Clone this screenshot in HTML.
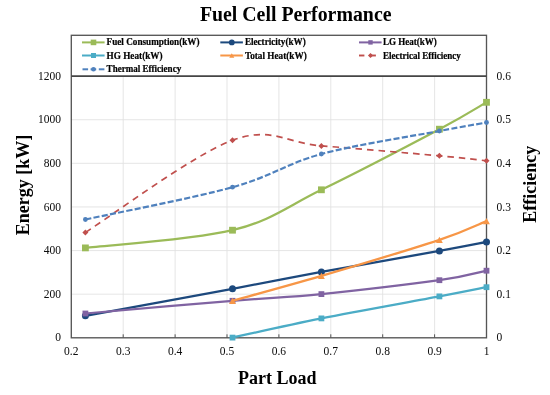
<!DOCTYPE html>
<html><head><meta charset="utf-8"><title>Fuel Cell Performance</title>
<style>html,body{margin:0;padding:0;background:#fff}svg{display:block}</style></head>
<body>
<svg width="550" height="395" viewBox="0 0 550 395">
<defs><filter id="soft" x="0" y="0" width="550" height="395" filterUnits="userSpaceOnUse"><feGaussianBlur stdDeviation="0.4"/></filter></defs>
<rect width="550" height="395" fill="#fff"/>
<g filter="url(#soft)">
<g stroke="#e0e0e0" stroke-width="0.85" fill="none">
<line x1="123.20" y1="76.10" x2="123.20" y2="337.80"/>
<line x1="175.10" y1="76.10" x2="175.10" y2="337.80"/>
<line x1="227.00" y1="76.10" x2="227.00" y2="337.80"/>
<line x1="278.90" y1="76.10" x2="278.90" y2="337.80"/>
<line x1="330.80" y1="76.10" x2="330.80" y2="337.80"/>
<line x1="382.70" y1="76.10" x2="382.70" y2="337.80"/>
<line x1="434.60" y1="76.10" x2="434.60" y2="337.80"/>
<line x1="71.30" y1="294.18" x2="486.50" y2="294.18"/>
<line x1="71.30" y1="250.57" x2="486.50" y2="250.57"/>
<line x1="71.30" y1="206.95" x2="486.50" y2="206.95"/>
<line x1="71.30" y1="163.33" x2="486.50" y2="163.33"/>
<line x1="71.30" y1="119.72" x2="486.50" y2="119.72"/>
</g>
<g stroke="#555555" stroke-width="1.35" fill="none">
<rect x="71.30" y="35.30" width="415.20" height="302.50"/>
<line x1="71.30" y1="76.10" x2="486.50" y2="76.10" stroke="#444" stroke-width="1.6"/>
</g>
<g stroke="#555555" stroke-width="1" fill="none">
<line x1="123.20" y1="334.30" x2="123.20" y2="337.80"/>
<line x1="175.10" y1="334.30" x2="175.10" y2="337.80"/>
<line x1="227.00" y1="334.30" x2="227.00" y2="337.80"/>
<line x1="278.90" y1="334.30" x2="278.90" y2="337.80"/>
<line x1="330.80" y1="334.30" x2="330.80" y2="337.80"/>
<line x1="382.70" y1="334.30" x2="382.70" y2="337.80"/>
<line x1="434.60" y1="334.30" x2="434.60" y2="337.80"/>
</g>
<path d="M85.40 247.90 C109.92 244.95 193.17 239.88 232.50 230.20 C271.83 220.52 286.92 206.63 321.40 189.80 C355.88 172.97 411.88 143.78 439.40 129.20 C466.92 114.62 478.65 106.78 486.50 102.30" fill="none" stroke="#9BBB59" stroke-width="2.3" stroke-linejoin="round"/>
<rect x="82.00" y="244.50" width="6.80" height="6.80" fill="#9BBB59"/>
<rect x="229.10" y="226.80" width="6.80" height="6.80" fill="#9BBB59"/>
<rect x="318.00" y="186.40" width="6.80" height="6.80" fill="#9BBB59"/>
<rect x="436.00" y="125.80" width="6.80" height="6.80" fill="#9BBB59"/>
<rect x="483.10" y="98.90" width="6.80" height="6.80" fill="#9BBB59"/>
<path d="M85.40 315.80 C109.92 311.30 193.17 296.12 232.50 288.80 C271.83 281.48 286.92 278.22 321.40 271.90 C355.88 265.58 411.88 255.88 439.40 250.90 C466.92 245.92 478.65 243.48 486.50 242.00" fill="none" stroke="#1F497D" stroke-width="2.3" stroke-linejoin="round"/>
<circle cx="85.40" cy="315.80" r="3.50" fill="#1F497D"/>
<circle cx="232.50" cy="288.80" r="3.50" fill="#1F497D"/>
<circle cx="321.40" cy="271.90" r="3.50" fill="#1F497D"/>
<circle cx="439.40" cy="250.90" r="3.50" fill="#1F497D"/>
<circle cx="486.50" cy="242.00" r="3.50" fill="#1F497D"/>
<path d="M85.40 313.50 C109.92 311.38 193.17 304.03 232.50 300.80 C271.83 297.57 286.92 297.53 321.40 294.10 C355.88 290.67 411.88 284.10 439.40 280.20 C466.92 276.30 478.65 272.28 486.50 270.70" fill="none" stroke="#8064A2" stroke-width="2.25" stroke-linejoin="round"/>
<rect x="82.50" y="310.60" width="5.80" height="5.80" fill="#8064A2"/>
<rect x="229.60" y="297.90" width="5.80" height="5.80" fill="#8064A2"/>
<rect x="318.50" y="291.20" width="5.80" height="5.80" fill="#8064A2"/>
<rect x="436.50" y="277.30" width="5.80" height="5.80" fill="#8064A2"/>
<rect x="483.60" y="267.80" width="5.80" height="5.80" fill="#8064A2"/>
<path d="M232.50 337.60 C247.32 334.40 286.92 325.27 321.40 318.40 C355.88 311.53 411.88 301.60 439.40 296.40 C466.92 291.20 478.65 288.73 486.50 287.20" fill="none" stroke="#4BACC6" stroke-width="2.25" stroke-linejoin="round"/>
<rect x="229.60" y="334.70" width="5.80" height="5.80" fill="#4BACC6"/>
<rect x="318.50" y="315.50" width="5.80" height="5.80" fill="#4BACC6"/>
<rect x="436.50" y="293.50" width="5.80" height="5.80" fill="#4BACC6"/>
<rect x="483.60" y="284.30" width="5.80" height="5.80" fill="#4BACC6"/>
<path d="M232.50 300.80 C247.32 296.65 286.92 286.07 321.40 275.90 C355.88 265.73 411.88 248.93 439.40 239.80 C466.92 230.67 478.65 224.22 486.50 221.10" fill="none" stroke="#F79646" stroke-width="2.3" stroke-linejoin="round"/>
<polygon points="232.50,297.70 235.91,303.90 229.09,303.90" fill="#F79646"/>
<polygon points="321.40,272.80 324.81,279.00 317.99,279.00" fill="#F79646"/>
<polygon points="439.40,236.70 442.81,242.90 435.99,242.90" fill="#F79646"/>
<polygon points="486.50,218.00 489.91,224.20 483.09,224.20" fill="#F79646"/>
<path d="M85.40 232.40 C109.92 217.03 193.17 154.62 232.50 140.20 C271.83 125.78 286.92 143.30 321.40 145.90 C355.88 148.50 411.88 153.32 439.40 155.80 C466.92 158.28 478.65 159.97 486.50 160.80" fill="none" stroke="#C0504D" stroke-width="1.7" stroke-linejoin="round" stroke-dasharray="6.5 5"/>
<polygon points="85.40,229.40 88.40,232.40 85.40,235.40 82.40,232.40" fill="#C0504D"/>
<polygon points="232.50,137.20 235.50,140.20 232.50,143.20 229.50,140.20" fill="#C0504D"/>
<polygon points="321.40,142.90 324.40,145.90 321.40,148.90 318.40,145.90" fill="#C0504D"/>
<polygon points="439.40,152.80 442.40,155.80 439.40,158.80 436.40,155.80" fill="#C0504D"/>
<polygon points="486.50,157.80 489.50,160.80 486.50,163.80 483.50,160.80" fill="#C0504D"/>
<path d="M85.40 219.50 C109.92 214.12 193.17 198.12 232.50 187.20 C271.83 176.28 286.92 163.37 321.40 154.00 C355.88 144.63 411.88 136.25 439.40 131.00 C466.92 125.75 478.65 123.92 486.50 122.50" fill="none" stroke="#4F81BD" stroke-width="2.2" stroke-linejoin="round" stroke-dasharray="6.1 2.3"/>
<circle cx="85.40" cy="219.50" r="2.40" fill="#4F81BD"/>
<circle cx="232.50" cy="187.20" r="2.40" fill="#4F81BD"/>
<circle cx="321.40" cy="154.00" r="2.40" fill="#4F81BD"/>
<circle cx="439.40" cy="131.00" r="2.40" fill="#4F81BD"/>
<circle cx="486.50" cy="122.50" r="2.40" fill="#4F81BD"/>
<g font-family="'Liberation Serif', serif" font-size="11.5" fill="#0a0a0a">
<text x="71.30" y="355.2" text-anchor="middle">0.2</text>
<text x="123.20" y="355.2" text-anchor="middle">0.3</text>
<text x="175.10" y="355.2" text-anchor="middle">0.4</text>
<text x="227.00" y="355.2" text-anchor="middle">0.5</text>
<text x="278.90" y="355.2" text-anchor="middle">0.6</text>
<text x="330.80" y="355.2" text-anchor="middle">0.7</text>
<text x="382.70" y="355.2" text-anchor="middle">0.8</text>
<text x="434.60" y="355.2" text-anchor="middle">0.9</text>
<text x="486.50" y="355.2" text-anchor="middle">1</text>
<text x="61" y="341.40" text-anchor="end">0</text>
<text x="496.5" y="341.40">0</text>
<text x="61" y="297.78" text-anchor="end">200</text>
<text x="496.5" y="297.78">0.1</text>
<text x="61" y="254.17" text-anchor="end">400</text>
<text x="496.5" y="254.17">0.2</text>
<text x="61" y="210.55" text-anchor="end">600</text>
<text x="496.5" y="210.55">0.3</text>
<text x="61" y="166.93" text-anchor="end">800</text>
<text x="496.5" y="166.93">0.4</text>
<text x="61" y="123.32" text-anchor="end">1000</text>
<text x="496.5" y="123.32">0.5</text>
<text x="61" y="79.70" text-anchor="end">1200</text>
<text x="496.5" y="79.70">0.6</text>
</g>
<g font-family="'Liberation Serif', serif" font-weight="bold" fill="#000">
<text x="295.7" y="20.8" font-size="20" text-anchor="middle" textLength="191.6" lengthAdjust="spacingAndGlyphs">Fuel Cell Performance</text>
<text x="277.2" y="384.1" font-size="18" text-anchor="middle">Part Load</text>
<text transform="translate(28.7,185.1) rotate(-90)" font-size="18" text-anchor="middle">Energy [kW]</text>
<text transform="translate(535.9,184.3) rotate(-90)" font-size="18" text-anchor="middle">Efficiency</text>
</g>
<g font-family="'Liberation Serif', serif" font-weight="bold" font-size="9.3" fill="#000">
<line x1="82.00" y1="42.40" x2="104.60" y2="42.40" stroke="#9BBB59" stroke-width="2.0"/>
<rect x="90.70" y="39.60" width="5.60" height="5.60" fill="#9BBB59"/>
<text x="106.60" y="45.40" textLength="92.9" lengthAdjust="spacingAndGlyphs" stroke="#000" stroke-width="0.2">Fuel Consumption(kW)</text>
<line x1="220.30" y1="42.40" x2="242.90" y2="42.40" stroke="#1F497D" stroke-width="2.0"/>
<circle cx="231.80" cy="42.40" r="2.90" fill="#1F497D"/>
<text x="244.90" y="45.40" textLength="60.8" lengthAdjust="spacingAndGlyphs" stroke="#000" stroke-width="0.2">Electricity(kW)</text>
<line x1="359.00" y1="42.40" x2="381.60" y2="42.40" stroke="#8064A2" stroke-width="2.0"/>
<rect x="368.30" y="40.20" width="4.40" height="4.40" fill="#8064A2"/>
<text x="382.90" y="45.40" textLength="54.0" lengthAdjust="spacingAndGlyphs" stroke="#000" stroke-width="0.2">LG Heat(kW)</text>
<line x1="82.00" y1="55.50" x2="104.60" y2="55.50" stroke="#4BACC6" stroke-width="2.0"/>
<rect x="91.00" y="53.00" width="5.00" height="5.00" fill="#4BACC6"/>
<text x="106.60" y="58.60" textLength="56.0" lengthAdjust="spacingAndGlyphs" stroke="#000" stroke-width="0.2">HG Heat(kW)</text>
<line x1="220.30" y1="55.50" x2="242.90" y2="55.50" stroke="#F79646" stroke-width="2.0"/>
<polygon points="231.80,53.20 234.33,57.80 229.27,57.80" fill="#F79646"/>
<text x="244.90" y="58.60" textLength="61.9" lengthAdjust="spacingAndGlyphs" stroke="#000" stroke-width="0.2">Total Heat(kW)</text>
<line x1="359.00" y1="55.50" x2="364.40" y2="55.50" stroke="#C0504D" stroke-width="1.9"/>
<line x1="369.80" y1="55.50" x2="375.90" y2="55.50" stroke="#C0504D" stroke-width="1.9"/>
<polygon points="370.50,52.90 373.10,55.50 370.50,58.10 367.90,55.50" fill="#C0504D"/>
<text x="382.90" y="58.60" textLength="78.0" lengthAdjust="spacingAndGlyphs" stroke="#000" stroke-width="0.2">Electrical Efficiency</text>
<line x1="82.50" y1="69.30" x2="88.10" y2="69.30" stroke="#4F81BD" stroke-width="2.0"/>
<line x1="90.60" y1="69.30" x2="96.20" y2="69.30" stroke="#4F81BD" stroke-width="2.0"/>
<line x1="98.80" y1="69.30" x2="104.40" y2="69.30" stroke="#4F81BD" stroke-width="2.0"/>
<circle cx="93.50" cy="69.30" r="2.30" fill="#4F81BD"/>
<text x="106.60" y="71.80" textLength="74.6" lengthAdjust="spacingAndGlyphs" stroke="#000" stroke-width="0.2">Thermal Efficiency</text>
</g>
</g>
</svg>
</body></html>
